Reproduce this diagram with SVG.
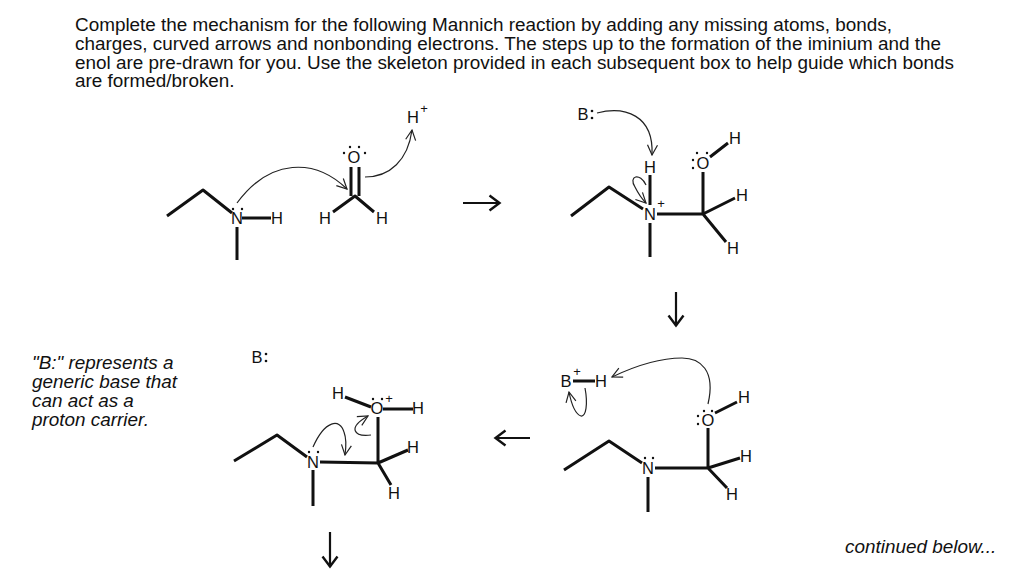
<svg xmlns="http://www.w3.org/2000/svg" width="1024" height="569" viewBox="0 0 1024 569">
<defs>
<marker id="open" viewBox="0 0 12 12" refX="11" refY="6" markerWidth="12" markerHeight="12" markerUnits="userSpaceOnUse" orient="auto"><path d="M1 1L11 6L1 11" fill="none" stroke="#222" stroke-width="1.2"/></marker>
<marker id="big" viewBox="0 0 16 18" refX="13" refY="9" markerWidth="16" markerHeight="18" markerUnits="userSpaceOnUse" orient="auto"><path d="M2.5 1.5L12.5 9L2.5 16.5" fill="none" stroke="#111" stroke-width="2.4"/></marker>
</defs>
<style>
text{font-family:"Liberation Sans",Arial,sans-serif;fill:#111}
.p{font-size:18.9px}
.i{font-size:18.9px;font-style:italic}
.a{font-size:16.5px;text-anchor:middle}
.s{font-size:13px;text-anchor:middle}
.b{fill:none;stroke:#111;stroke-width:3;stroke-linecap:butt;stroke-linejoin:round}
.c{fill:none;stroke:#222;stroke-width:1.2;marker-end:url(#open)}
.r{fill:none;stroke:#111;stroke-width:2.2;marker-end:url(#big)}
.d{fill:#111}
</style>
<rect width="1024" height="569" fill="#fff"/>
<g id="question">
<text class="p" x="75" y="31">Complete the mechanism for the following Mannich reaction by adding any missing atoms, bonds,</text>
<text class="p" x="75" y="50">charges, curved arrows and nonbonding electrons. The steps up to the formation of the iminium and the</text>
<text class="p" x="75" y="68.5">enol are pre-drawn for you. Use the skeleton provided in each subsequent box to help guide which bonds</text>
<text class="p" x="75" y="87">are formed/broken.</text>
</g>
<g id="note">
<text class="i" x="32" y="369">"B:" represents a</text>
<text class="i" x="32" y="388">generic base that</text>
<text class="i" x="32" y="407">can act as a</text>
<text class="i" x="32" y="425.5">proton carrier.</text>
</g>
<text id="continued" class="i" x="845" y="553">continued below...</text>
<g id="mol1">
<path class="b" d="M167 216L203 190L232 213M242 218H271M237 227V260M351 167V196M359 167V196M333 212L355 196L374 212"/>
<text class="a" x="237" y="224">N</text><text class="a" x="277" y="224">H</text><text class="a" x="325" y="224">H</text><text class="a" x="382" y="224">H</text><text class="a" x="354" y="163">O</text>
<text class="a" x="413" y="123">H</text><text class="s" x="424" y="113">+</text>
<circle class="d" cx="233" cy="209" r="1.2"/><circle class="d" cx="242" cy="209" r="1.2"/>
<circle class="d" cx="350" cy="147" r="1.2"/><circle class="d" cx="359" cy="147" r="1.2"/><circle class="d" cx="344" cy="153" r="1.2"/><circle class="d" cx="365" cy="153" r="1.2"/>
</g>
<g id="mol2">
<path class="b" d="M571 216L609 187L643 209M650 175V205M650 223V257M657 214H703V172M710 157L728 143M703 214L735 198M703 214L726 242"/>
<text class="a" x="650" y="220">N</text><text class="a" x="650" y="173">H</text><text class="a" x="703" y="169">O</text><text class="a" x="735" y="144">H</text><text class="a" x="742" y="201">H</text><text class="a" x="733" y="254">H</text>
<text class="s" x="661" y="208">+</text>
<text class="a" x="583" y="120">B</text>
<circle class="d" cx="592" cy="111" r="1.3"/><circle class="d" cx="592" cy="118" r="1.3"/>
<circle class="d" cx="693" cy="160" r="1.2"/><circle class="d" cx="693" cy="168" r="1.2"/><circle class="d" cx="697" cy="153" r="1.2"/><circle class="d" cx="707" cy="153" r="1.2"/>
</g>
<g id="mol3">
<path class="b" d="M564 470L609 441L642 463M655 468H708V428M715 413L737 402M708 468L740 458M708 468L727 488M573 381H595"/>
<path class="b" d="M648 477V512"/>
<text class="a" x="648" y="474">N</text><text class="a" x="708" y="426">O</text><text class="a" x="744" y="403">H</text><text class="a" x="746" y="462">H</text><text class="a" x="732" y="500">H</text>
<text class="a" x="566" y="387">B</text><text class="a" x="601" y="387">H</text><text class="s" x="577" y="376">+</text>
<circle class="d" cx="645" cy="458" r="1.2"/><circle class="d" cx="653" cy="458" r="1.2"/>
<circle class="d" cx="698" cy="416" r="1.2"/><circle class="d" cx="698" cy="424" r="1.2"/><circle class="d" cx="704" cy="411" r="1.2"/><circle class="d" cx="712" cy="411" r="1.2"/>
</g>
<g id="mol4">
<path class="b" d="M234 461L277 435L307 457M320 462L378 463V417M345 397L371 407M383 409H413M378 463L408 450M378 463L391 485M313 470V506"/>
<text class="a" x="313" y="468">N</text><text class="a" x="377" y="414">O</text><text class="a" x="338" y="399">H</text><text class="a" x="418" y="414">H</text><text class="a" x="413" y="453">H</text><text class="a" x="394" y="499">H</text>
<text class="s" x="389" y="403">+</text>
<text class="a" x="257" y="363">B</text>
<circle class="d" cx="266" cy="354" r="1.3"/><circle class="d" cx="266" cy="361" r="1.3"/>
<circle class="d" cx="309" cy="452" r="1.2"/><circle class="d" cx="318" cy="452" r="1.2"/>
<circle class="d" cx="373" cy="399" r="1.2"/><circle class="d" cx="382" cy="399" r="1.2"/>
</g>
<g id="connectors">
<path class="c" d="M237 203C270 158 315 158 347 189"/>
<path class="c" d="M365 177C390 177 408 160 412 130"/>
<path class="c" d="M597 113C625 106 654 115 652 155"/>
<path class="c" d="M646 185C640 172 628 176 635 187C638 193 642 199 646 203"/>
<path class="c" d="M708 404C716 370 700 358 682 358C660 358 635 366 612 377"/>
<path class="c" d="M585 388C588 404 586 417 581 416C575 414 571 402 569 392"/>
<path class="c" d="M313 447C325 420 340 418 344 432C347 440 346 448 345 455"/>
<path class="c" d="M371 435C354 437 347 428 368 416"/>
<path class="r" d="M463 203H500"/>
<path class="r" d="M676 292V326"/>
<path class="r" d="M530 438H495"/>
<path class="r" d="M330 532V567"/>
</g>
</svg>
